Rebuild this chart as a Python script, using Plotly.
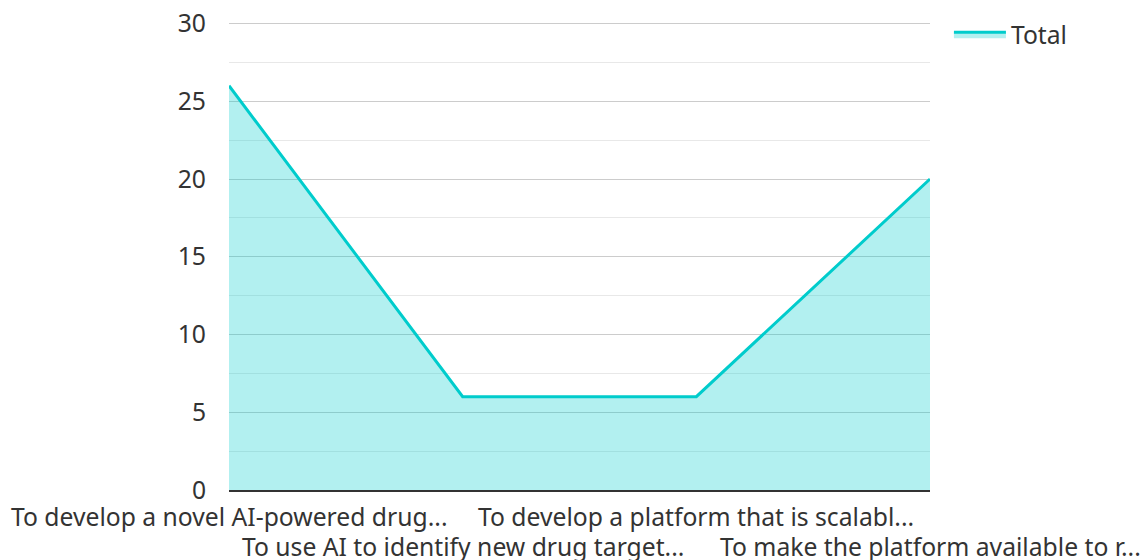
import plotly.graph_objects as go

categories = [
    "To develop a novel AI-powered drug...",
    "To use AI to identify new drug target...",
    "To develop a platform that is scalabl...",
    "To make the platform available to r...",
]
values = [26, 6, 6, 20]
series_name = "Total"
y_ticks = [0, 5, 10, 15, 20, 25, 30]

FONT = "Noto Sans"
TXT = "#333333"
FS = 24.7

x_idx = list(range(len(categories)))

fig = go.Figure()
fig.add_trace(go.Scatter(
    x=x_idx, y=values, name=series_name, mode="lines",
    line=dict(color="#00CCCC", width=3),
    fill="tozeroy", fillcolor="rgba(0,204,204,0.3)",
))

annotations = []
for i, c in enumerate(categories):
    annotations.append(dict(
        x=i, xref="x", y=0, yref="y", text=c, showarrow=False,
        xanchor="center", yanchor="top", yshift=-8 if i % 2 == 0 else -38,
        font=dict(family=FONT, size=FS, color=TXT),
    ))

fig.update_layout(
    width=1146, height=560,
    margin=dict(l=229, r=216, t=21.5, b=70, autoexpand=False),
    paper_bgcolor="white", plot_bgcolor="white",
    font=dict(family=FONT, size=FS, color=TXT),
    showlegend=True,
    legend=dict(x=1.027, y=1.022, xanchor="left", yanchor="top",
                font=dict(family=FONT, size=FS, color=TXT),
                itemwidth=52),
    xaxis=dict(range=[0, 3], showticklabels=False, showgrid=False,
               zeroline=False, showline=True, linecolor="#333333", linewidth=2,
               tickvals=x_idx, ticks=""),
    yaxis=dict(range=[0, 30.1], tickvals=y_ticks, showgrid=True,
               gridcolor="#CCCCCC", gridwidth=1, zeroline=False,
               showline=False, ticks="", ticklabelstandoff=22,
               tickfont=dict(family=FONT, size=FS, color=TXT),
               minor=dict(dtick=2.5, showgrid=True, gridcolor="#E8E8E8")),
    annotations=annotations,
)

fig.write_html("out.html", config={"displayModeBar": False},
               post_script="document.body.style.margin='0';")
